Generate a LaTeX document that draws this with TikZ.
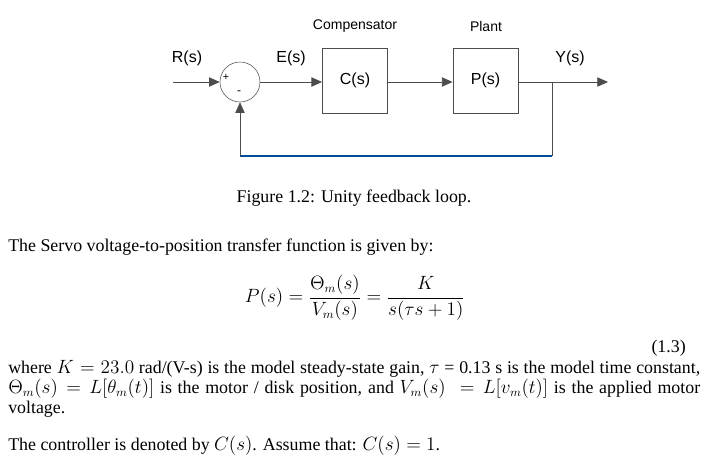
\documentclass[tikz,border=0pt]{standalone}
\usepackage{fontspec}
\usepackage{amsmath}
\setmainfont{Liberation Serif}
\newfontfamily\arial{Liberation Sans}
\usetikzlibrary{arrows.meta}
\begin{document}
\begin{tikzpicture}[x=0.75pt,y=-0.75pt,
  blk/.style={draw=black!70,minimum width=49pt,minimum height=48.75pt,font=\arial\fontsize{12}{14}\selectfont},
  lbl/.style={font=\arial\fontsize{12}{14}\selectfont},
  sig/.style={draw=black!70,line width=0.6pt},
  arr/.style={sig,-{Triangle[length=8pt,width=7pt]}},
  txt/.style={font=\fontsize{13.4}{15}\selectfont,inner sep=0pt}]
\useasboundingbox (0,0) rectangle (708,460);
% block diagram
\coordinate (in) at (173,82);
\node[draw=black!70,circle,minimum size=30pt,inner sep=0pt] (sum) at (240,82) {};
\node[blk] (C) at (355,80.5) {C(s)};
\node[blk] (P) at (485.5,80.5) {P(s)};
\coordinate (br) at (552,82);
\coordinate (out) at (608,82);
\coordinate (bl) at (552,156);
\coordinate (bb) at (240,156);
\draw[arr] (in) -- (sum.west);
\draw[arr] (sum.east) -- (C.west |- sum.east);
\draw[arr] (C.east |- sum.east) -- (P.west |- sum.east);
\draw[arr] (P.east |- sum.east) -- (out);
\draw[sig] (br) -- (bl);
\draw[draw=blue!50!cyan!60!black,line width=0.8pt] (bl) -- (bb);
\draw[arr] (bb) -- (sum.south);
\node[lbl] (rl) at (187,58) {R(s)};
\node[lbl] (el) at (291,58) {E(s)};
\node[lbl] (yl) at (570,58) {Y(s)};
\node[font=\arial\fontsize{10.5}{12}\selectfont] (cl) at (355,26) {Compensator};
\node[font=\arial\fontsize{10.5}{12}\selectfont] (pl) at (486,26) {Plant};
\node[font=\arial\fontsize{8}{8}\selectfont] (plus) at (226,77) {+};
\node[font=\arial\fontsize{9}{9}\selectfont] (minus) at (239,93) {-};
% text
\node[txt] (cap) at (354,198) {Figure 1.2: Unity feedback loop.};
\node[txt,anchor=west] (t1) at (8,247) {The Servo voltage-to-position transfer function is given by:};
\node[txt,font=\fontsize{13.5}{15}\selectfont] (eq) at (355,298) {$P(s)=\dfrac{\Theta_m(s)}{V_m(s)}=\dfrac{K}{s(\tau s+1)}$};
\node[txt,anchor=east] (num) at (686,348) {(1.3)};
\node[txt,anchor=north west,text width=519pt,align=justify] (par) at (8,360)
  {where $K = 23.0$ rad/(V-s) is the model steady-state gain, $\tau$ = 0.13 s is the model time constant,\linebreak $\Theta_m(s) = L[\theta_m(t)]$ is the motor / disk position, and $V_m(s)\ = L[v_m(t)]$ is the applied motor\linebreak voltage.};
\node[txt,anchor=west] (t2) at (8,446) {The controller is denoted by $C(s)$. Assume that: $C(s)=1$.};
\end{tikzpicture}
\end{document}
